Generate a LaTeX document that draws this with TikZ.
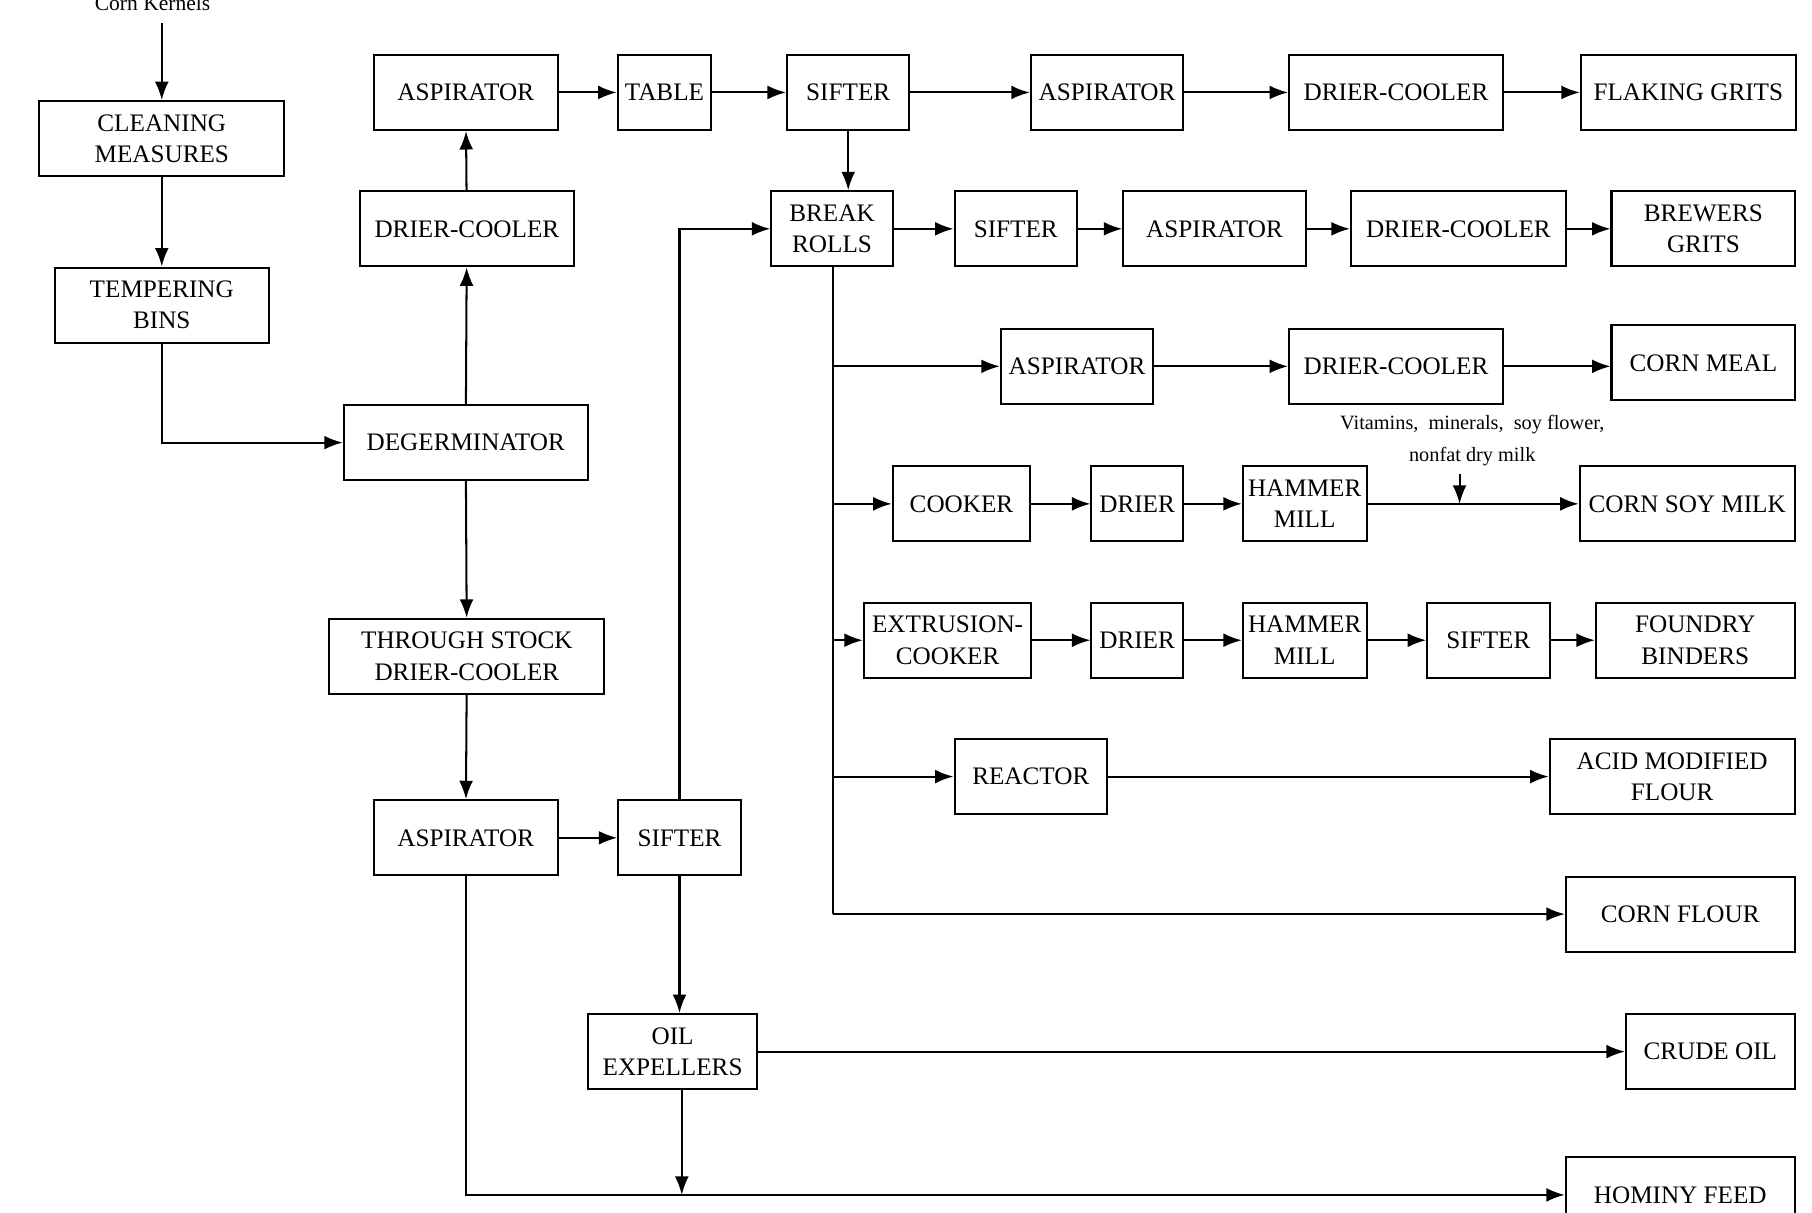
\documentclass[tikz,border=0pt]{standalone}
\usepackage{fontspec}
\setmainfont{Liberation Serif}
\usetikzlibrary{arrows.meta}
\tikzset{
  box/.style={draw,line width=0.5pt,inner sep=0pt,minimum height=6.5mm,align=center,font=\fontsize{6.2}{7.7}\selectfont},
  flow/.style={-{Latex[length=1.6mm,width=1.2mm]},line width=0.5pt},
  note/.style={font=\fontsize{5}{6}\selectfont,inner sep=0pt}
}
\begin{document}
\begin{tikzpicture}[x=0.1mm,y=-0.1mm]
\useasboundingbox (0,0) rectangle (1568,1049);

% left column
\node[note,font=\fontsize{5.3}{6}\selectfont] (kern) at (132,3) {Corn Kernels};
\coordinate (kend) at (140,20);
\node[box,minimum width=21.2mm] (clean) at (140,120) {CLEANING\\MEASURES};
\node[box,minimum width=18.5mm] (temp) at (140,264) {TEMPERING\\BINS};
\node[box,minimum width=21.1mm] (degerm) at (403,383) {DEGERMINATOR};
\node[box,minimum width=18.5mm] (dc0) at (404,198) {DRIER-COOLER};
\node[box,minimum width=15.9mm] (asp0) at (403,80) {ASPIRATOR};
\node[box,minimum width=23.8mm] (tsdc) at (404,568) {THROUGH STOCK\\DRIER-COOLER};
\node[box,minimum width=15.9mm] (asp5) at (403,725) {ASPIRATOR};
\node[box,minimum width=10.6mm] (sift5) at (588,725) {SIFTER};
\node[box,minimum width=14.6mm] (oil) at (582,910) {OIL\\EXPELLERS};

% top row
\node[box,minimum width=8.1mm] (table) at (575,80) {TABLE};
\node[box,minimum width=10.6mm] (sift1) at (734,80) {SIFTER};
\node[box,minimum width=13.2mm] (asp1) at (958,80) {ASPIRATOR};
\node[box,minimum width=18.5mm] (dc1) at (1208,80) {DRIER-COOLER};
\node[box,minimum width=18.6mm] (flake) at (1461,80) {FLAKING GRITS};

% break rolls row
\node[box,minimum width=10.5mm] (brk) at (720,198) {BREAK\\ROLLS};
\node[box,minimum width=10.6mm] (sift2) at (879,198) {SIFTER};
\node[box,minimum width=15.8mm] (asp2) at (1051,198) {ASPIRATOR};
\node[box,minimum width=18.6mm] (dc2) at (1262,198) {DRIER-COOLER};
\node[box,minimum width=15.9mm] (brew) at (1474,198) {BREWERS\\GRITS};

% branches
\node[box,minimum width=13.2mm] (asp3) at (932,317) {ASPIRATOR};
\node[box,minimum width=18.5mm] (dc3) at (1208,317) {DRIER-COOLER};
\node[box,minimum width=15.9mm] (meal) at (1474,314) {CORN MEAL};
\node[box,minimum width=11.9mm] (cook) at (832,436) {COOKER};
\node[box,minimum width=7.9mm] (dr1) at (984,436) {DRIER};
\node[box,minimum width=10.7mm] (hm1) at (1129,436) {HAMMER\\MILL};
\node[box,minimum width=18.6mm] (soy) at (1460,436) {CORN SOY MILK};
\node[note,align=center] (vit) at (1274,381) {Vitamins,\ \ minerals,\ \ soy flower,\\[2pt]nonfat dry milk};
\coordinate (vtop) at (1263,410);
\coordinate (vbot) at (1263,436);
\node[box,minimum width=14.5mm] (ext) at (820,554) {EXTRUSION-\\COOKER};
\node[box,minimum width=7.9mm] (dr2) at (984,554) {DRIER};
\node[box,minimum width=10.7mm] (hm2) at (1129,554) {HAMMER\\MILL};
\node[box,minimum width=10.6mm] (sift4) at (1288,554) {SIFTER};
\node[box,minimum width=17.2mm] (found) at (1467,554) {FOUNDRY\\BINDERS};
\node[box,minimum width=13.2mm] (react) at (892,672) {REACTOR};
\node[box,minimum width=21.2mm] (acid) at (1447,672) {ACID MODIFIED\\FLOUR};
\node[box,minimum width=19.8mm] (flour) at (1454,791) {CORN FLOUR};
\node[box,minimum width=14.6mm] (crude) at (1480,910) {CRUDE OIL};
\node[box,minimum width=19.8mm] (hominy) at (1454,1034) {HOMINY FEED};

\coordinate (trunk) at (721,231);
\coordinate (hj) at (590,1034);

\draw[flow] (kend) -- (clean);
\draw[flow] (clean) -- (temp);
\draw[flow] (temp.south) |- (degerm.west);
\draw[flow] (degerm) -- (dc0);
\draw[flow] (dc0) -- (asp0);
\draw[flow] (asp0) -- (table);
\draw[flow] (table) -- (sift1);
\draw[flow] (sift1) -- (asp1);
\draw[flow] (asp1) -- (dc1);
\draw[flow] (dc1) -- (flake);
\draw[flow] (sift1) -- (brk.north -| sift1);
\draw[flow] (brk) -- (sift2);
\draw[flow] (sift2) -- (asp2);
\draw[flow] (asp2) -- (dc2);
\draw[flow] (dc2) -- (brew);
\draw[flow] (degerm) -- (tsdc);
\draw[flow] (tsdc) -- (asp5);
\draw[flow] (asp5) -- (sift5);
\draw[flow] (sift5.north) |- (brk.west);
\draw[flow] (sift5) -- (oil.north -| sift5);
\draw[flow] (oil) -- (crude);
\draw[flow] (asp5.south) |- (hominy.west);
\draw[flow] (oil.south -| hj) -- (hj);

\draw[line width=0.5pt] (trunk) -- (trunk |- flour);
\draw[flow] (trunk |- asp3) -- (asp3);
\draw[flow] (trunk |- cook) -- (cook);
\draw[flow] (trunk |- ext) -- (ext);
\draw[flow] (trunk |- react) -- (react);
\draw[flow] (trunk |- flour) -- (flour);
\draw[flow] (asp3) -- (dc3);
\draw[flow] (dc3) -- (meal.west |- dc3);
\draw[flow] (cook) -- (dr1);
\draw[flow] (dr1) -- (hm1);
\draw[flow] (hm1) -- (soy);
\draw[flow] (vtop) -- (vbot);
\draw[flow] (ext) -- (dr2);
\draw[flow] (dr2) -- (hm2);
\draw[flow] (hm2) -- (sift4);
\draw[flow] (sift4) -- (found);
\draw[flow] (react) -- (acid);
\end{tikzpicture}
\end{document}
